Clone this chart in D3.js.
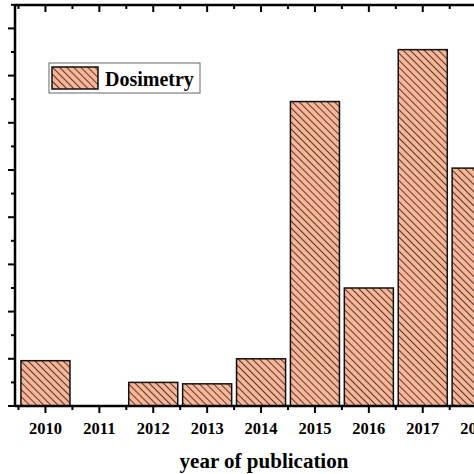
<!DOCTYPE html>
<html><head><meta charset="utf-8">
<script src="https://cdn.jsdelivr.net/npm/d3@7"></script>
<style>body{margin:0;background:#fff}</style>
</head><body>
<svg id="chart" width="474" height="474"></svg>
<script>
const years = ['2010','2011','2012','2013','2014','2015','2016','2017','2018'];
const counts = [9.6, 0, 5, 4.7, 10, 64.5, 25, 75.5, 50.4];
const yMax = 85;

const svg = d3.select('#chart');
const plot = { left: 15, top: 5, right: 474, bottom: 406 };

const x = d3.scaleBand().domain(years).range([18.5, 503.6]).paddingInner(0.09).paddingOuter(0.045);
const y = d3.scaleLinear().domain([0, yMax]).range([plot.bottom, plot.bottom - yMax * 4.72]);

const defs = svg.append('defs');
const pat = defs.append('pattern')
    .attr('id', 'hatch').attr('patternUnits', 'userSpaceOnUse')
    .attr('width', 5).attr('height', 5).attr('patternTransform', 'rotate(45)');
pat.append('rect').attr('width', 5).attr('height', 5).attr('fill', '#f8b597');
pat.append('line').attr('x1', 0).attr('y1', 0).attr('x2', 5).attr('y2', 0)
    .attr('stroke', '#2a1a12').attr('stroke-width', 1.6);

svg.selectAll('.bar').data(years.map((d, i) => ({ year: d, v: counts[i] })).filter(d => d.v > 0))
    .enter().append('rect')
    .attr('x', d => x(d.year))
    .attr('y', d => y(d.v))
    .attr('width', x.bandwidth())
    .attr('height', d => y(0) - y(d.v))
    .attr('fill', 'url(#hatch)')
    .attr('stroke', '#111').attr('stroke-width', 1.5);

const step = x.step();
const xticks = [];
years.forEach(yr => { const c = x(yr) + x.bandwidth() / 2; xticks.push([c, true], [c - step / 2, false]); });

// frame lines
svg.append('line').attr('x1', plot.left).attr('x2', plot.right).attr('y1', plot.top).attr('y2', plot.top)
    .attr('stroke', '#000').attr('stroke-width', 2.5);
svg.append('line').attr('x1', plot.left).attr('x2', plot.right).attr('y1', plot.bottom).attr('y2', plot.bottom)
    .attr('stroke', '#000').attr('stroke-width', 2.5);
svg.append('line').attr('x1', plot.left).attr('x2', plot.left).attr('y1', plot.top).attr('y2', plot.bottom)
    .attr('stroke', '#000').attr('stroke-width', 2.5);

// x ticks bottom and top
xticks.forEach(([px, major]) => {
    if (px < plot.left) return;
    svg.append('line').attr('x1', px).attr('x2', px).attr('y1', plot.bottom).attr('y2', plot.bottom + (major ? 7 : 4))
        .attr('stroke', '#000').attr('stroke-width', 2);
    svg.append('line').attr('x1', px).attr('x2', px).attr('y1', plot.top).attr('y2', plot.top + (major ? 7 : 4))
        .attr('stroke', '#000').attr('stroke-width', 2);
});

// y ticks
d3.range(0, yMax + 0.1, 5).forEach(v => {
    const major = v % 10 === 0;
    svg.append('line').attr('x1', plot.left).attr('x2', plot.left - (major ? 7 : 4))
        .attr('y1', y(v)).attr('y2', y(v)).attr('stroke', '#000').attr('stroke-width', 2);
});

svg.selectAll('.xl').data(years).enter().append('text')
    .attr('x', d => x(d) + x.bandwidth() / 2).attr('y', 434)
    .attr('text-anchor', 'middle')
    .attr('font-family', 'Liberation Serif, serif').attr('font-weight', 'bold').attr('font-size', 16.5)
    .text(d => d);

svg.append('text').attr('x', 264).attr('y', 468).attr('text-anchor', 'middle')
    .attr('font-family', 'Liberation Serif, serif').attr('font-weight', 'bold').attr('font-size', 21)
    .text('year of publication');

// legend
const lg = svg.append('g');
lg.append('rect').attr('x', 49).attr('y', 63).attr('width', 151).attr('height', 30)
    .attr('fill', '#fff').attr('stroke', '#666').attr('stroke-width', 1);
lg.append('rect').attr('x', 52).attr('y', 67).attr('width', 46).attr('height', 22)
    .attr('fill', 'url(#hatch)').attr('stroke', '#111').attr('stroke-width', 1.5);
lg.append('text').attr('x', 105).attr('y', 86)
    .attr('font-family', 'Liberation Serif, serif').attr('font-weight', 'bold').attr('font-size', 20)
    .text('Dosimetry');
</script>
</body></html>
